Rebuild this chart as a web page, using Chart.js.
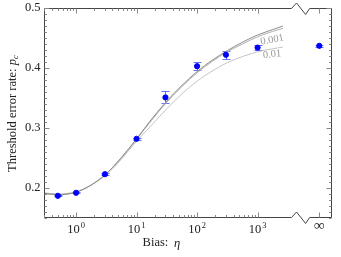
<!DOCTYPE html>
<html>
<head>
<meta charset="utf-8">
<script src="https://cdn.jsdelivr.net/npm/chart.js@4/dist/chart.umd.min.js"></script>
<style>
  html, body { margin: 0; padding: 0; background: #fff; }
  #wrap { width: 341px; height: 257px; }
</style>
</head>
<body>
<div id="wrap"><canvas id="pc" width="341" height="257"></canvas></div>
<script>
// measured threshold error rates vs bias eta
const etaValues = [0.5, 1, 3, 10, 30, 100, 300, 1000, Infinity];
const pcValues  = [0.187, 0.192, 0.223, 0.282, 0.351, 0.403, 0.422, 0.434, 0.437];
const pcErrors  = [0.001, 0.001, 0.0015, 0.002, 0.010, 0.007, 0.007, 0.004, 0.0015];

// fitted curves (x = log10 eta)
const fitLogEta = [-0.53, -0.3, 0, 0.25, 0.5, 0.75, 1, 1.25, 1.5, 1.75, 2, 2.25, 2.5, 2.75, 3, 3.25, 3.42];
const fitZero   = [0.191, 0.189, 0.193, 0.205, 0.224, 0.251, 0.282, 0.315, 0.345, 0.371, 0.394, 0.413, 0.429, 0.443, 0.455, 0.464, 0.470];
const fit0001   = [0.191, 0.189, 0.193, 0.205, 0.224, 0.250, 0.281, 0.313, 0.343, 0.369, 0.392, 0.411, 0.427, 0.440, 0.452, 0.461, 0.466];
const fit001    = [0.192, 0.190, 0.194, 0.205, 0.222, 0.248, 0.278, 0.305, 0.332, 0.357, 0.378, 0.395, 0.409, 0.419, 0.427, 0.432, 0.435];

// axis
const xMajorTicks = [0, 1, 2, 3];
const yMajorTicks = [0.2, 0.3, 0.4, 0.5];
const INF_POS = 4.02;           // where eta = infinity sits on the broken axis
const BREAK_FROM = 3.56, BREAK_TO = 3.86;

const xOf = e => (e === Infinity ? INF_POS : Math.log10(e));
const pts = etaValues.map((e, i) => ({ x: xOf(e), y: pcValues[i] }));
const curve = arr => fitLogEta.map((x, i) => ({ x: x, y: arr[i] }));

const serif = '"Liberation Serif", "DejaVu Serif", serif';

const axesPlugin = {
  id: 'pgfAxes',
  beforeDatasetsDraw(chart) {
    const ctx = chart.ctx, xs = chart.scales.x, ys = chart.scales.y;
    // error bars
    ctx.save();
    ctx.strokeStyle = '#6677ff';
    ctx.lineWidth = 1;
    pts.forEach((p, i) => {
      const px = Math.round(xs.getPixelForValue(p.x)) + 0.5;
      const y1 = Math.round(ys.getPixelForValue(p.y + pcErrors[i])) + 0.5;
      const y2 = Math.round(ys.getPixelForValue(p.y - pcErrors[i])) + 0.5;
      ctx.beginPath();
      ctx.moveTo(px, y1); ctx.lineTo(px, y2);
      ctx.moveTo(px - 4, y1); ctx.lineTo(px + 4, y1);
      ctx.moveTo(px - 4, y2); ctx.lineTo(px + 4, y2);
      ctx.stroke();
    });
    ctx.restore();
  },
  afterDraw(chart) {
    const ctx = chart.ctx, a = chart.chartArea;
    const xs = chart.scales.x, ys = chart.scales.y;
    ctx.save();
    ctx.strokeStyle = '#444';
    ctx.lineWidth = 1;
    const L = Math.round(a.left) + 0.5, R = Math.round(a.right) - 0.5;
    const T = Math.round(a.top) + 0.5, B = Math.round(a.bottom) - 0.5;
    const bx1 = xs.getPixelForValue(BREAK_FROM), bx2 = xs.getPixelForValue(BREAK_TO);

    // frame with broken top/bottom
    ctx.beginPath();
    ctx.moveTo(L, T); ctx.lineTo(L, B);
    ctx.moveTo(R, T); ctx.lineTo(R, B);
    [T, B].forEach(Y => {
      ctx.moveTo(L, Y); ctx.lineTo(bx1, Y);
      const w = bx2 - bx1;
      ctx.lineTo(bx1 + w * 0.28, Y - 5.5);
      ctx.lineTo(bx1 + w * 0.78, Y + 6);
      ctx.lineTo(bx2, Y);
      ctx.lineTo(R, Y);
    });
    ctx.stroke();

    // x ticks (inside, top and bottom)
    ctx.strokeStyle = '#888';
    ctx.beginPath();
    const xtick = (v, len) => {
      const px = Math.round(xs.getPixelForValue(v)) + 0.5;
      ctx.moveTo(px, B); ctx.lineTo(px, B - len);
      ctx.moveTo(px, T); ctx.lineTo(px, T + len);
    };
    xMajorTicks.forEach(d => {
      xtick(d, 5);
      for (let k = 2; k <= 9; k++) {
        const v = d - 1 + Math.log10(k);
        if (v > xs.min) xtick(v, 2.5);
      }
    });
    xtick(INF_POS, 5);
    // y ticks (inside, left and right)
    for (let i = 15; i <= 50; i++) {
      const v = i / 100;
      const py = Math.round(ys.getPixelForValue(v)) + 0.5;
      const len = (i % 10 === 0) ? 5 : 2.5;
      ctx.moveTo(L, py); ctx.lineTo(L + len, py);
      ctx.moveTo(R, py); ctx.lineTo(R - len, py);
    }
    ctx.stroke();

    // tick labels
    ctx.fillStyle = '#222';
    ctx.textBaseline = 'middle';
    ctx.font = '12.5px ' + serif;
    ctx.textAlign = 'right';
    yMajorTicks.forEach(v => ctx.fillText(v.toFixed(1), L - 4, ys.getPixelForValue(v)));

    xMajorTicks.forEach(d => {
      const px = xs.getPixelForValue(d);
      ctx.font = '12.5px ' + serif;
      const wb = ctx.measureText('10').width;
      ctx.font = '8.5px ' + serif;
      const we = ctx.measureText(String(d)).width;
      const x0 = px - (wb + we + 1) / 2;
      ctx.textAlign = 'left';
      ctx.font = '12.5px ' + serif;
      ctx.fillText('10', x0, B + 12);
      ctx.font = '8.5px ' + serif;
      ctx.fillText(String(d), x0 + wb + 1, B + 8);
    });
    ctx.textAlign = 'center';
    ctx.font = '15px ' + serif;
    ctx.fillText('∞', xs.getPixelForValue(INF_POS), B + 9);

    // axis titles
    ctx.font = '12.5px ' + serif;
    ctx.fillText('Bias: ', 157, 243);
    ctx.font = 'italic 12.5px ' + serif;
    ctx.fillText('η', 177, 244);

    ctx.save();
    ctx.translate(13, 113);
    ctx.rotate(-Math.PI / 2);
    ctx.font = '12.5px ' + serif;
    const t1 = 'Threshold error rate: ';
    const w1 = ctx.measureText(t1).width;
    ctx.font = 'italic 12.5px ' + serif;
    const w2 = ctx.measureText('p').width;
    const tot = w1 + w2 + 5;
    ctx.textAlign = 'left';
    ctx.font = '12.5px ' + serif;
    ctx.fillText(t1, -tot / 2, 0);
    ctx.font = 'italic 12.5px ' + serif;
    ctx.fillText('p', -tot / 2 + w1, 0);
    ctx.font = 'italic 8.5px ' + serif;
    ctx.fillText('c', -tot / 2 + w1 + w2, 3);
    ctx.restore();

    // curve labels
    ctx.fillStyle = '#999';
    ctx.font = '10.5px ' + serif;
    ctx.textAlign = 'center';
    [['0.001', 3.24, 0.447, -0.18], ['0.01', 3.24, 0.4225, -0.1]].forEach(([txt, x, y, r]) => {
      ctx.save();
      ctx.translate(xs.getPixelForValue(x), ys.getPixelForValue(y));
      ctx.rotate(r);
      ctx.fillText(txt, 0, 0);
      ctx.restore();
    });
    ctx.restore();
  }
};

const lineStyle = (data, color, order) => ({
  type: 'line',
  data: data,
  borderColor: color,
  borderWidth: 1,
  pointRadius: 0,
  cubicInterpolationMode: 'monotone',
  fill: false,
  order: order
});

new Chart(document.getElementById('pc').getContext('2d'), {
  type: 'scatter',
  data: {
    datasets: [
      {
        type: 'scatter',
        data: pts,
        backgroundColor: '#0000ff',
        borderColor: '#0000ff',
        pointRadius: 2.6,
        order: 0
      },
      lineStyle(curve(fitZero), '#8a8a8a', 1),
      lineStyle(curve(fit0001), '#b0b0b0', 2),
      lineStyle(curve(fit001), '#c4c4c4', 3)
    ]
  },
  options: {
    responsive: false,
    animation: false,
    devicePixelRatio: 1,
    layout: { padding: { left: 44, right: 9, top: 8, bottom: 39 } },
    plugins: { legend: { display: false }, tooltip: { enabled: false } },
    scales: {
      x: { type: 'linear', min: -0.53, max: 4.23, display: false },
      y: { type: 'linear', min: 0.15, max: 0.5, display: false }
    }
  },
  plugins: [axesPlugin]
});
</script>
</body>
</html>
